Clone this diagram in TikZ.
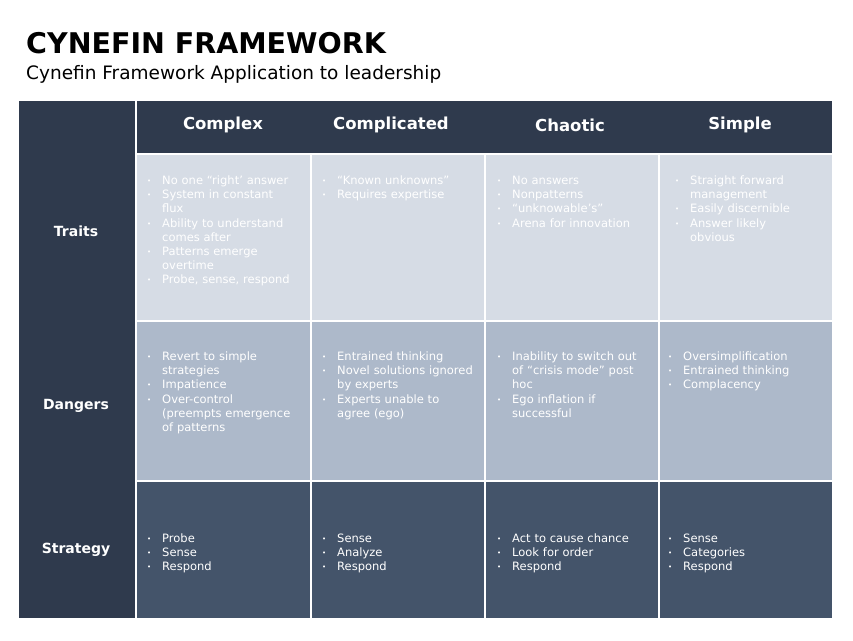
\documentclass[tikz,border=0pt]{standalone}
\usepackage{fontspec}
\setmainfont{DejaVu Sans}
\definecolor{dk}{HTML}{2F3A4D}
\definecolor{tr}{HTML}{D6DCE5}
\definecolor{dg}{HTML}{ADB9CA}
\definecolor{st}{HTML}{44546A}
\newcommand{\bl}[1]{\par\hangindent=15pt\hangafter=1\noindent\makebox[15pt][l]{\raisebox{1pt}{\scalebox{0.6}{•}}}#1\par}
\begin{document}
\begin{tikzpicture}[x=1pt,y=-1pt,
  cell/.style={anchor=north west,inner sep=0pt,text width=175pt,align=left,text=white,font=\fontsize{11.5}{14.2}\selectfont},
  hdr/.style={text=white,font=\fontsize{16.5}{18}\selectfont\bfseries},
  rlab/.style={text=white,font=\fontsize{14}{16}\selectfont\bfseries}]
\useasboundingbox (0,0) rectangle (853,640);
\node[anchor=west,inner sep=0pt,font=\fontsize{28.5}{30}\selectfont\bfseries] (title) at (26,43) {CYNEFIN FRAMEWORK};
\node[anchor=west,inner sep=0pt,font=\fontsize{18.5}{20}\selectfont] (sub) at (26,74) {Cynefin Framework Application to leadership};
\fill[dk] (19,101) rectangle (135,618);
\fill[dk] (137,101) rectangle (832,153);
\foreach \x/\w in {137/310,312/484,486/658,660/832}{
  \fill[tr] (\x,155) rectangle (\w,320);
  \fill[dg] (\x,322) rectangle (\w,480);
  \fill[st] (\x,482) rectangle (\w,618);
}
\node[hdr] (h1) at (223,125) {Complex};
\node[hdr] (h2) at (391,125) {Complicated};
\node[hdr] (h3) at (570,125) {Chaotic};
\node[hdr] (h4) at (740,125) {Simple};
\node[rlab] (r1) at (76,231) {Traits};
\node[rlab] (r2) at (76,406) {Dangers};
\node[rlab] (r3) at (76,550) {Strategy};
\node[cell] (t1) at (147,170) {\bl{No one ``right' answer}\bl{System in constant\newline flux}\bl{Ability to understand\newline comes after}\bl{Patterns emerge\newline overtime}\bl{Probe, sense, respond}};
\node[cell] (t2) at (322,170) {\bl{``Known unknowns''}\bl{Requires expertise}};
\node[cell] (t3) at (497,170) {\bl{No answers}\bl{Nonpatterns}\bl{``unknowable's''}\bl{Arena for innovation}};
\node[cell] (t4) at (675,170) {\bl{Straight forward\newline management}\bl{Easily discernible}\bl{Answer likely\newline obvious}};
\node[cell] (d1) at (147,346) {\bl{Revert to simple\newline strategies}\bl{Impatience}\bl{Over-control\newline (preempts emergence\newline of patterns}};
\node[cell] (d2) at (322,346) {\bl{Entrained thinking}\bl{Novel solutions ignored\newline by experts}\bl{Experts unable to\newline agree (ego)}};
\node[cell] (d3) at (497,346) {\bl{Inability to switch out\newline of ``crisis mode'' post\newline hoc}\bl{Ego inflation if\newline successful}};
\node[cell] (d4) at (668,346) {\bl{Oversimplification}\bl{Entrained thinking}\bl{Complacency}};
\node[cell] (s1) at (147,528) {\bl{Probe}\bl{Sense}\bl{Respond}};
\node[cell] (s2) at (322,528) {\bl{Sense}\bl{Analyze}\bl{Respond}};
\node[cell] (s3) at (497,528) {\bl{Act to cause chance}\bl{Look for order}\bl{Respond}};
\node[cell] (s4) at (668,528) {\bl{Sense}\bl{Categories}\bl{Respond}};
\end{tikzpicture}
\end{document}
